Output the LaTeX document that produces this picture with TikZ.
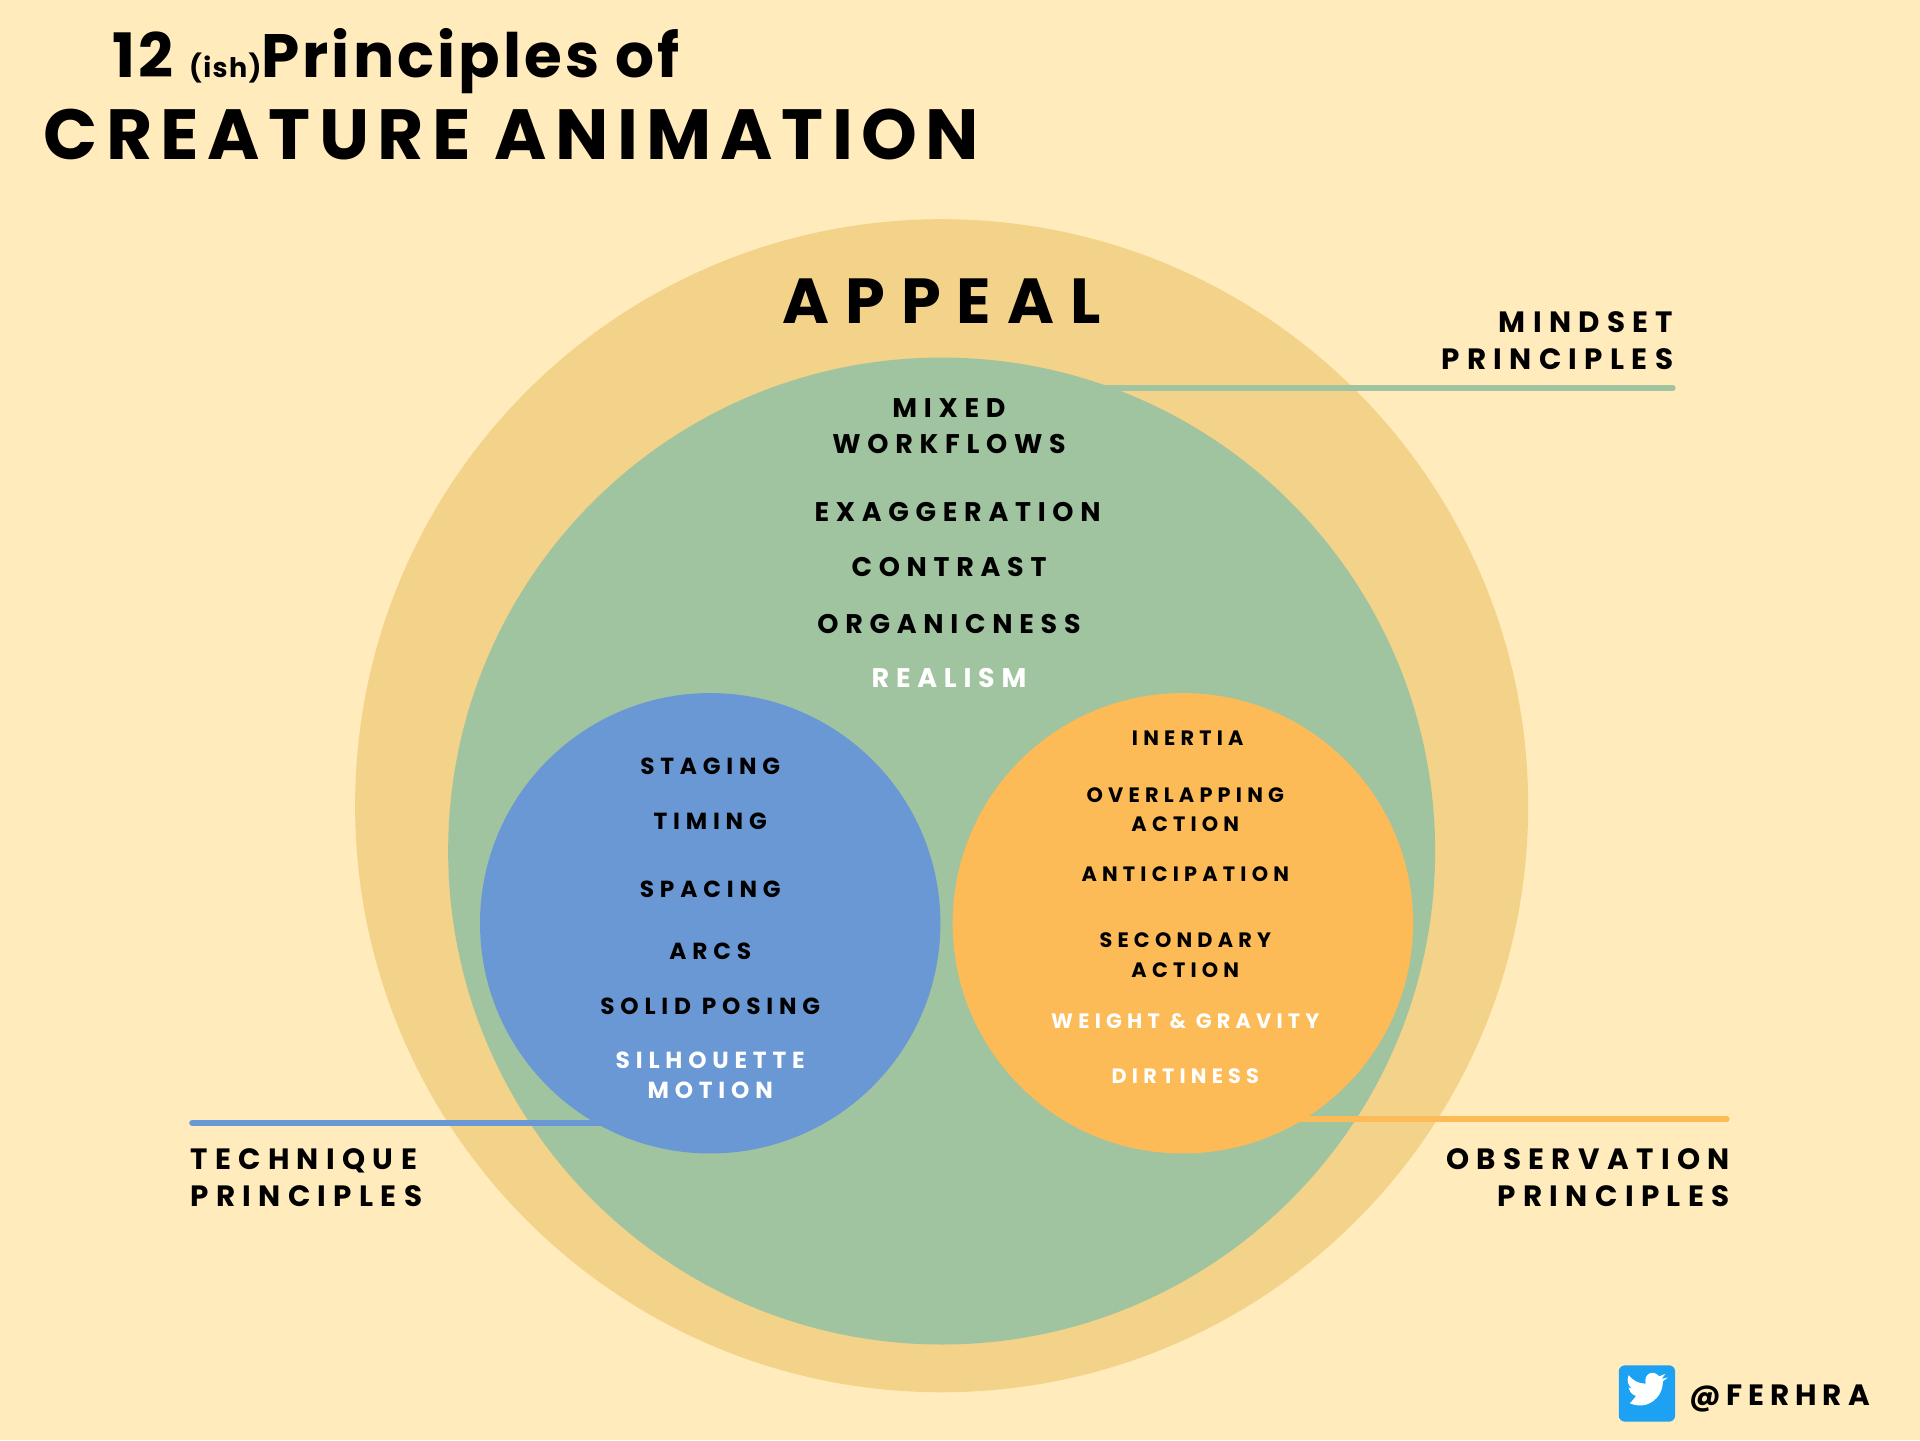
\documentclass[tikz,border=0pt]{standalone}
\usepackage{fontspec}
\setmainfont{Poppins}[UprightFont=* Bold, BoldFont=* Bold]
\definecolor{bg}{HTML}{FFEBBB}
\definecolor{outer}{HTML}{F3D28A}
\definecolor{green}{HTML}{A1C4A0}
\definecolor{blue}{HTML}{6A98D5}
\definecolor{orange}{HTML}{FDBB58}
\definecolor{tw}{HTML}{1DA1F2}
\tikzset{
 lab/.style={align=center,font=\fontsize{19}{24}\selectfont\addfontfeatures{LetterSpace=25}},
 big/.style={align=center,font=\fontsize{22}{30}\selectfont\addfontfeatures{LetterSpace=25}},
 side/.style={font=\fontsize{24}{30}\selectfont\addfontfeatures{LetterSpace=25}},
 wt/.style={text=white},
 conn/.style={line width=5pt,line cap=round}
}
\begin{document}
\begin{tikzpicture}[x=1pt,y=-1pt]
\fill[bg] (0,0) rectangle (1568,1176);
\useasboundingbox (0,0) rectangle (1568,1176);
\node[circle,fill=outer,minimum size=958pt,inner sep=0] (outer) at (769,658) {};
\node[circle,fill=green,minimum size=806pt,inner sep=0] (green) at (769,695) {};
\node[circle,fill=blue,minimum size=376pt,inner sep=0] (blue) at (580,754) {};
\node[circle,fill=orange,minimum size=376pt,inner sep=0] (orange) at (966,754) {};
\coordinate (g1) at (900,317); \coordinate (g2) at (1366,317);
\coordinate (b1) at (490,917); \coordinate (b2) at (157,917);
\coordinate (o1) at (1060,914); \coordinate (o2) at (1410,914);
\draw[conn,green] (g1) -- (g2);
\draw[conn,blue] (b1) -- (b2);
\draw[conn,orange] (o1) -- (o2);
% title
\node[anchor=west,font=\fontsize{50}{60}\selectfont\addfontfeatures{LetterSpace=5}] (t1) at (88,50) {12 {\fontsize{22}{26}\selectfont(ish)}Principles of};
\node[anchor=west,font=\fontsize{58}{66}\selectfont\addfontfeatures{LetterSpace=12}] (t2) at (32,110) {CREATURE ANIMATION};
\node[font=\fontsize{52}{60}\selectfont\addfontfeatures{LetterSpace=25}] (appeal) at (769,246) {APPEAL};
\node[side,align=right,anchor=east] (mind) at (1370,278) {MINDSET\\PRINCIPLES};
\node[side,align=left,anchor=west] (tech) at (152,962) {TECHNIQUE\\PRINCIPLES};
\node[side,align=right,anchor=east] (obs) at (1416,962) {OBSERVATION\\PRINCIPLES};
% green
\node[big] at (775,348) {MIXED\\WORKFLOWS};
\node[big] at (782,418) {EXAGGERATION};
\node[big] at (775,463) {CONTRAST};
\node[big] at (775,510) {ORGANICNESS};
\node[big,wt] at (775,554) {REALISM};
% blue
\node[lab] at (580,626) {STAGING};
\node[lab] at (580,671) {TIMING};
\node[lab] at (580,726) {SPACING};
\node[lab] at (580,777) {ARCS};
\node[lab] at (580,822) {SOLID POSING};
\node[lab,wt] at (580,878) {SILHOUETTE\\MOTION};
% orange
\node[lab,font=\fontsize{17}{24}\selectfont\addfontfeatures{LetterSpace=25}] at (970,603) {INERTIA};
\node[lab,font=\fontsize{17}{24}\selectfont\addfontfeatures{LetterSpace=25}] at (968,661) {OVERLAPPING\\ACTION};
\node[lab,font=\fontsize{17}{24}\selectfont\addfontfeatures{LetterSpace=25}] at (968,714) {ANTICIPATION};
\node[lab,font=\fontsize{17}{24}\selectfont\addfontfeatures{LetterSpace=25}] at (968,780) {SECONDARY\\ACTION};
\node[lab,wt,font=\fontsize{17}{24}\selectfont\addfontfeatures{LetterSpace=25}] at (968,834) {WEIGHT \& GRAVITY};
\node[lab,wt,font=\fontsize{17}{24}\selectfont\addfontfeatures{LetterSpace=25}] at (968,879) {DIRTINESS};
% twitter
\node[fill=tw,rounded corners=5pt,minimum size=46pt,inner sep=0] (tw) at (1345,1138) {};
\fill[white] (1331,1146) .. controls (1345,1152) and (1358,1142) .. (1358,1128)
  -- (1362,1125) -- (1357,1126) -- (1360,1122) -- (1355,1124)
  .. controls (1350,1118) and (1342,1122) .. (1344,1130)
  .. controls (1338,1130) and (1333,1127) .. (1330,1123)
  .. controls (1328,1128) and (1330,1132) .. (1333,1134)
  -- (1330,1133) .. controls (1331,1137) and (1333,1139) .. (1336,1140)
  .. controls (1334,1143) and (1332,1145) .. (1331,1146) -- cycle;
\node[anchor=west,font=\fontsize{24}{30}\selectfont\addfontfeatures{LetterSpace=20}] (handle) at (1376,1142) {@FERHRA};
\end{tikzpicture}
\end{document}
